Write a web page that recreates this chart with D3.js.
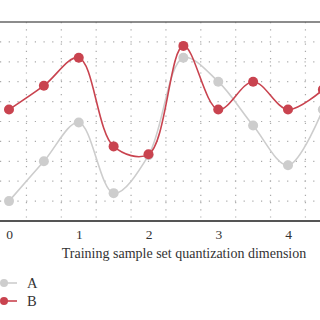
<!DOCTYPE html>
<html>
<head>
<meta charset="utf-8">
<script src="https://cdn.jsdelivr.net/npm/d3@7"></script>
<style>
  html, body { margin: 0; padding: 0; background: #fff; }
  svg { display: block; }
</style>
</head>
<body>
<div id="chart"></div>
<script>
const xValues = [0, 0.5, 1, 1.5, 2, 2.5, 3, 3.5, 4, 4.5];
const seriesA = [1.0, 3.0, 4.95, 1.4, 3.3, 8.2, 7.0, 4.8, 2.8, 5.6];
const seriesB = [5.6, 6.8, 8.2, 3.75, 3.35, 8.8, 5.6, 7.0, 5.6, 6.6];
const xTicks = [0, 1, 2, 3, 4];
const xGrid = [-0.25, 0.25, 0.75, 1.25, 1.75, 2.25, 2.75, 3.25, 3.75, 4.25, 4.75];
const yGrid = [1, 2, 3, 4, 5, 6, 7, 8, 9];
const seriesNames = ["A", "B"];
const colors = ["#cdcdcd", "#c9434f"];

var w = 320, h = 320;

const svg = d3.select("#chart")
  .append("svg")
  .attr("width", w)
  .attr("height", h);

const xScale = d3.scaleLinear().domain([0, 4]).range([9, 288]);
const yScale = d3.scaleLinear().domain([0, 10]).range([221, 22]);

svg.append("defs").append("clipPath").attr("id", "clip")
  .append("rect").attr("x", 0).attr("y", 22).attr("width", w).attr("height", 199);

// dotted grid
const grid = svg.append("g").attr("clip-path", "url(#clip)");
grid.selectAll(".vg")
  .data(xGrid)
  .enter()
  .append("line")
  .attr("x1", d => xScale(d)).attr("x2", d => xScale(d))
  .attr("y1", 22).attr("y2", 221)
  .attr("stroke", "#aaa")
  .attr("stroke-width", 1.2)
  .attr("stroke-dasharray", "1.2,6");
grid.selectAll(".hg")
  .data(yGrid)
  .enter()
  .append("line")
  .attr("x1", 0).attr("x2", w)
  .attr("y1", d => yScale(d)).attr("y2", d => yScale(d))
  .attr("stroke", "#aaa")
  .attr("stroke-width", 1.2)
  .attr("stroke-dasharray", "1.2,7.5");

// frame lines
svg.append("line").attr("x1", 0).attr("x2", w)
  .attr("y1", yScale(10)).attr("y2", yScale(10))
  .attr("stroke", "#666").attr("stroke-width", 1.5);

const xAxis = svg.append("g")
  .attr("transform", `translate(0, ${yScale(0)})`)
  .call(d3.axisBottom(xScale).tickValues(xTicks).tickSize(0).tickPadding(8).tickFormat(d3.format("d")));
xAxis.select(".domain").remove();
xAxis.selectAll("text")
  .attr("font-family", "Liberation Serif, serif")
  .attr("font-size", 13.5)
  .attr("fill", "#333");
svg.append("line").attr("x1", 0).attr("x2", w)
  .attr("y1", yScale(0)).attr("y2", yScale(0))
  .attr("stroke", "#555").attr("stroke-width", 2);

svg.append("text")
  .attr("x", 184)
  .attr("y", 258)
  .attr("text-anchor", "middle")
  .attr("font-family", "Liberation Serif, serif")
  .attr("font-size", 14)
  .attr("fill", "#333")
  .text("Training sample set quantization dimension");

// series
const line = d3.line()
  .x((d, i) => xScale(xValues[i]))
  .y(d => yScale(d))
  .curve(d3.curveCatmullRom.alpha(0.5));

const plot = svg.append("g").attr("clip-path", "url(#clip)");
[seriesA, seriesB].forEach((s, k) => {
  plot.append("path")
    .datum(s)
    .attr("d", line)
    .attr("fill", "none")
    .attr("stroke", colors[k])
    .attr("stroke-width", 1.6);
  plot.selectAll(".pt" + k)
    .data(s)
    .enter()
    .append("circle")
    .attr("cx", (d, i) => xScale(xValues[i]))
    .attr("cy", d => yScale(d))
    .attr("r", 5)
    .attr("fill", colors[k]);
});

// legend
const legend = svg.append("g");
seriesNames.forEach((n, k) => {
  const y = 283 + k * 18;
  legend.append("line").attr("x1", 3).attr("x2", 17).attr("y1", y).attr("y2", y)
    .attr("stroke", colors[k]).attr("stroke-width", 1.6);
  legend.append("circle").attr("cx", 4).attr("cy", y).attr("r", 4).attr("fill", colors[k]);
  legend.append("text")
    .attr("x", 27).attr("y", y + 5)
    .attr("font-family", "Liberation Serif, serif")
    .attr("font-size", 14.5)
    .attr("fill", "#333")
    .text(n);
});
</script>
</body>
</html>
